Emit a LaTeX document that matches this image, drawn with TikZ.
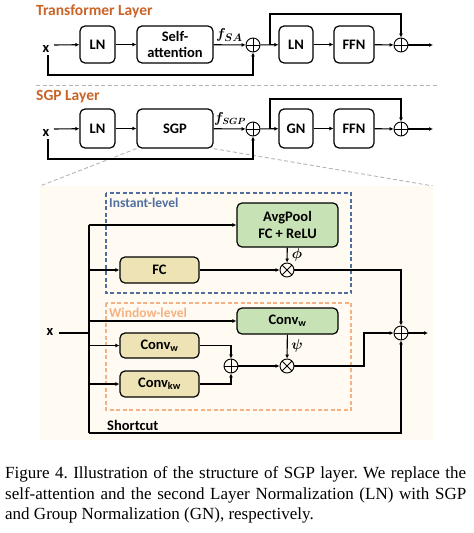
\documentclass[tikz,border=0pt]{standalone}
\usepackage{fontspec}
\usepackage{bm}
\setsansfont{Carlito}
\setmainfont{Liberation Serif}
\usetikzlibrary{arrows.meta}
\definecolor{ttlorange}{RGB}{200,100,40}
\definecolor{greenfill}{RGB}{199,226,180}
\definecolor{tanfill}{RGB}{238,227,180}
\definecolor{bluedash}{RGB}{80,110,160}
\definecolor{orangedash}{RGB}{244,177,131}
\definecolor{cream}{RGB}{255,251,242}
\definecolor{sepgray}{RGB}{180,180,180}
\tikzset{
  lbl/.style={font=\sffamily\bfseries\fontsize{14.5}{16}\selectfont},
  mlbl/.style={inner sep=0pt, font=\fontsize{15}{17}\selectfont},
  boxw/.style={draw, line width=1.2pt, rounded corners=5pt, fill=white, inner sep=0pt, align=center, lbl},
  boxg/.style={boxw, fill=greenfill},
  boxt/.style={boxw, fill=tanfill},
  arr/.style={line width=1.1pt, -{Latex[length=4pt,width=4pt]}},
  ln/.style={line width=1.1pt},
  sumnode/.style={circle, draw, line width=0.9pt, minimum size=14pt, inner sep=0pt,
    path picture={\draw[line width=0.9pt] (path picture bounding box.north) -- (path picture bounding box.south)
      (path picture bounding box.west) -- (path picture bounding box.east);}},
  prodnode/.style={circle, draw, line width=0.9pt, minimum size=14pt, inner sep=0pt,
    path picture={\draw[line width=0.9pt] (path picture bounding box.north west) -- (path picture bounding box.south east)
      (path picture bounding box.south west) -- (path picture bounding box.north east);}},
  sepline/.style={sepgray, dashed, dash pattern=on 4pt off 2.5pt, line width=0.9pt},
  captext/.style={anchor=west, inner sep=0pt, font=\rmfamily\fontsize{17}{20}\selectfont\frenchspacing},
}
\begin{document}
\begin{tikzpicture}[x=1pt,y=-1pt]
\useasboundingbox (0,0) rectangle (474,533);
% ---------------- Transformer layer ----------------
\node[font=\sffamily\bfseries\fontsize{15.5}{17}\selectfont, text=ttlorange, anchor=west, inner sep=0pt] (t1) at (36,11) {Transformer Layer};
\node[lbl, inner sep=0pt] (xa) at (46,49) {x};
\coordinate (xaout) at (54,45);
\coordinate (xadown) at (48,55);
\node[boxw, minimum width=35pt, minimum height=37pt] (lna) at (97.5,44.5) {LN};
\node[boxw, minimum width=76pt, minimum height=37pt] (sa) at (175,44.5) {Self-\\attention};
\node[sumnode] (pa1) at (253,45) {};
\node[boxw, minimum width=34pt, minimum height=37pt] (lna2) at (296,44.5) {LN};
\node[boxw, minimum width=40pt, minimum height=37pt] (ffna) at (354,44.5) {FFN};
\node[sumnode] (pa2) at (401,45) {};
\coordinate (oa) at (433,45);
\coordinate (ska) at (270,45);
\node[mlbl, anchor=west] (fsa) at (216,35) {$\bm{f_{SA}}$};
\draw[arr] (xaout) -- (lna);
\draw[arr] (lna) -- (sa);
\draw[arr] (sa) -- (pa1);
\draw[arr] (xadown) |- (253,75) -- (pa1.south);
\draw[arr] (pa1) -- (lna2);
\draw[arr] (lna2) -- (ffna);
\draw[arr] (ffna) -- (pa2);
\draw[arr] (pa2) -- (oa);
\draw[arr] (ska) |- (401,14) -- (pa2.north);
% separator
\draw[sepline] (36,85) -- (438,85);
% ---------------- SGP layer ----------------
\node[font=\sffamily\bfseries\fontsize{15.5}{17}\selectfont, text=ttlorange, anchor=west, inner sep=0pt] (t2) at (36,97) {SGP Layer};
\node[lbl, inner sep=0pt] (xb) at (46,133) {x};
\coordinate (xbout) at (54,129);
\coordinate (xbdown) at (48,139);
\node[boxw, minimum width=35pt, minimum height=39pt] (lnb) at (97.5,128.5) {LN};
\node[boxw, minimum width=76pt, minimum height=39pt] (sgp) at (175,128.5) {SGP};
\node[sumnode] (pb1) at (253,129) {};
\node[boxw, minimum width=34pt, minimum height=39pt] (gnb) at (296,128.5) {GN};
\node[boxw, minimum width=40pt, minimum height=39pt] (ffnb) at (354,128.5) {FFN};
\node[sumnode] (pb2) at (401,129) {};
\coordinate (ob) at (433,129);
\coordinate (skb) at (270,129);
\node[mlbl, anchor=west, font=\fontsize{13.5}{15}\selectfont] (fsgp) at (214,119) {$\bm{f_{SGP}}$};
% zoom lines
\coordinate (zl) at (40,186);
\coordinate (zr) at (433,186);
\draw[sepline] (sgp.south west) -- (zl);
\draw[sepline] (sgp.south east) -- (zr);
\draw[arr] (xbout) -- (lnb);
\draw[arr] (lnb) -- (sgp);
\draw[arr] (sgp) -- (pb1);
\draw[arr] (xbdown) |- (253,159) -- (pb1.south);
\draw[arr] (pb1) -- (gnb);
\draw[arr] (gnb) -- (ffnb);
\draw[arr] (ffnb) -- (pb2);
\draw[arr] (pb2) -- (ob);
\draw[arr] (skb) |- (401,99) -- (pb2.north);
% ---------------- detail ----------------
\fill[cream] (40,186) rectangle (433,440);
\draw[bluedash, dashed, dash pattern=on 4pt off 2.5pt, line width=1.1pt] (106,193) rectangle (351,293);
\node[anchor=west, inner sep=0pt, text=bluedash, font=\sffamily\bfseries\fontsize{13.5}{15}\selectfont] (il) at (109,203) {Instant-level};
\draw[orangedash, dashed, dash pattern=on 4pt off 2.5pt, line width=1.1pt] (106,303) rectangle (351,410);
\node[anchor=west, inner sep=0pt, text=orangedash, font=\sffamily\bfseries\fontsize{13.5}{15}\selectfont] (wl) at (109,313) {Window-level};

\node[boxg, minimum width=101pt, minimum height=44pt] (avg) at (287.5,225) {AvgPool\\[1pt]FC + ReLU};
\node[boxt, minimum width=79pt, minimum height=26pt] (fc) at (159.5,270) {FC};
\node[prodnode] (m1) at (287,270) {};
\node[mlbl] (phi) at (297,255) {$\bm{\phi}$};
\node[boxg, minimum width=101pt, minimum height=26pt] (cg) at (287.5,321) {Conv\textsubscript{w}};
\node[boxt, minimum width=79pt, minimum height=25pt] (cw) at (159.5,345.5) {Conv\textsubscript{w}};
\node[boxt, minimum width=79pt, minimum height=26pt] (ckw) at (159.5,384) {Conv\textsubscript{kw}};
\node[sumnode] (s2) at (231,366) {};
\node[prodnode] (m2) at (287,366) {};
\node[mlbl] (psi) at (297,346) {$\bm{\psi}$};
\node[sumnode] (fin) at (401,333) {};
\coordinate (ofin) at (428,333);
\node[lbl, inner sep=0pt] (xc) at (50,332) {x};
\coordinate (xcout) at (59,333);
\coordinate (tr1) at (89,225);
\coordinate (tr2) at (89,270);
\coordinate (tr3) at (89,321);
\coordinate (tr4) at (89,333);
\coordinate (tr5) at (89,345.5);
\coordinate (tr6) at (89,384);
\coordinate (tr7) at (89,433);
\node[lbl, anchor=west, inner sep=0pt] (sc) at (107,425) {Shortcut};

\draw[ln] (tr1) -- (tr7);
\draw[ln] (xcout) -- (tr4);
\draw[arr] (tr1) -- (avg);
\draw[arr] (tr2) -- (fc);
\draw[arr] (tr3) -- (cg);
\draw[arr] (tr5) -- (cw);
\draw[arr] (tr6) -- (ckw);
\draw[arr] (fc) -- (m1);
\draw[arr] (avg) -- (m1);
\draw[arr] (cg) -- (m2);
\draw[arr] (cw.east) -| (s2.north);
\draw[arr] (ckw.east) -| (s2.south);
\draw[arr] (s2) -- (m2);
\draw[arr] (m1) -| (fin.north);
\draw[arr] (m2) -- (364,366) |- (fin.west);
\draw[arr] (tr7) -| (fin.south);
\draw[arr] (fin) -- (ofin);
% ---------------- caption ----------------
\node[captext] (c1) at (5,474) {\makebox[461pt][s]{Figure 4. Illustration of the structure of SGP layer. We replace the}};
\node[captext] (c2) at (5,495) {\makebox[461pt][s]{self-attention and the second Layer Normalization (LN) with SGP}};
\node[captext] (c3) at (5,515) {and Group Normalization (GN), respectively.};
\end{tikzpicture}
\end{document}
